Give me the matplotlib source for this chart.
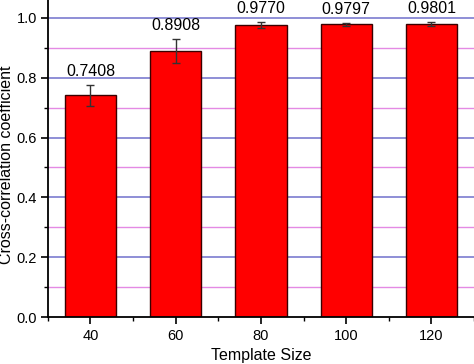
import matplotlib
matplotlib.use('Agg')
import matplotlib.pyplot as plt
from matplotlib.ticker import MultipleLocator

plt.rcParams['font.family'] = ['Liberation Sans', 'DejaVu Sans']

# --- Datos ---
tamanos = [40, 60, 80, 100, 120]
coeficientes = [0.7408, 0.8908, 0.9770, 0.9797, 0.9801]
errores = [0.036, 0.040, 0.010, 0.005, 0.007]
etiquetas = ['0.7408', '0.8908', '0.9770', '0.9797', '0.9801']

fig = plt.figure(figsize=(4.74, 3.64), dpi=100)
ax = fig.add_axes([0.101, 0.129, 0.899, 0.871])

# Rejilla: mayores azules, menores rosas
for y in [0.2, 0.4, 0.6, 0.8, 1.0]:
    ax.axhline(y, color='#7b7bd0', linewidth=1.2, zorder=0)
for y in [0.1, 0.3, 0.5, 0.7, 0.9]:
    ax.axhline(y, color='#e48ae4', linewidth=1.0, zorder=0)

ax.bar(tamanos, coeficientes, width=12, color='#ff0000', edgecolor='#3a0000',
       linewidth=1.0, zorder=2)
ax.errorbar(tamanos, coeficientes, yerr=errores, fmt='none', ecolor='#333333',
            elinewidth=1.0, capsize=3, capthick=1.0, zorder=3)

for x, v, e, t in zip(tamanos, coeficientes, errores, etiquetas):
    ax.text(x, v + e + 0.018, t, ha='center', va='bottom', fontsize=11.5)

ax.set_xlim(30, 130)
ax.set_ylim(0, 1.06)
ax.set_xticks(tamanos)
ax.xaxis.set_minor_locator(MultipleLocator(10))
ax.yaxis.set_major_locator(MultipleLocator(0.2))
ax.yaxis.set_minor_locator(MultipleLocator(0.1))
ax.yaxis.set_major_formatter(plt.FuncFormatter(lambda v, p: f"{v:.1f}"))
ax.tick_params(which='major', direction='out', length=5, width=1.2, labelsize=10.5)
ax.tick_params(which='minor', direction='out', length=3, width=1.0)
ax.tick_params(axis='y', pad=3)

ax.spines['top'].set_visible(False)
ax.spines['right'].set_visible(False)
ax.spines['left'].set_linewidth(1.3)
ax.spines['bottom'].set_linewidth(1.3)

ax.set_xlabel('Template Size', fontsize=11.5)
ax.set_ylabel('Cross-correlation coefficient', fontsize=11.5)
ax.yaxis.set_label_coords(-0.08, 0.48)

fig.savefig('out.png', dpi=100)
